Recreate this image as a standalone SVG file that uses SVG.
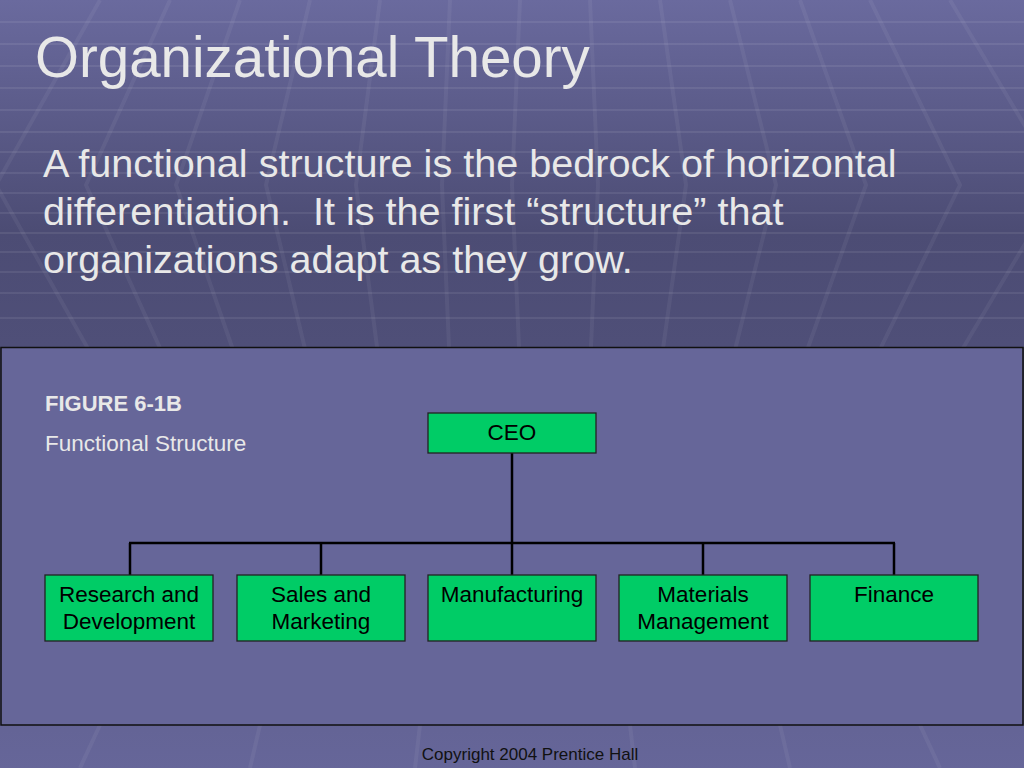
<svg xmlns="http://www.w3.org/2000/svg" width="1024" height="768" viewBox="0 0 1024 768">
<defs>
<linearGradient id="bg" x1="0" y1="0" x2="0" y2="1">
<stop offset="0" stop-color="#6a6a9e"/>
<stop offset="0.3" stop-color="#4c4c74"/>
<stop offset="0.45" stop-color="#4f4f78"/>
<stop offset="1" stop-color="#666699"/>
</linearGradient>
<style>
.hl{stroke:#ffffff;stroke-opacity:0.08;stroke-width:2}
.dl{stroke:#ffffff;stroke-opacity:0.055;stroke-width:4;fill:none}
.title{font-family:"Liberation Sans",Arial,sans-serif;fill:#e8e8e8}
.node rect{fill:#00cc66;stroke:#222222;stroke-width:1.3}
.node text{font-family:"Liberation Sans",Arial,sans-serif;font-size:22.5px;fill:#000000;text-anchor:middle}
.conn{stroke:#000000;stroke-width:2.5;fill:none}
</style>
</defs>
<rect x="0" y="0" width="1024" height="768" fill="url(#bg)"/>
<g id="background-grid">
<line class="hl" x1="0" y1="22" x2="1024" y2="22"/>
<line class="hl" x1="0" y1="44" x2="1024" y2="44"/>
<line class="hl" x1="0" y1="66" x2="1024" y2="66"/>
<line class="hl" x1="0" y1="88" x2="1024" y2="88"/>
<line class="hl" x1="0" y1="110" x2="1024" y2="110"/>
<line class="hl" x1="0" y1="132" x2="1024" y2="132"/>
<line class="hl" x1="0" y1="152" x2="1024" y2="152"/>
<line class="hl" x1="0" y1="173" x2="1024" y2="173"/>
<line class="hl" x1="0" y1="193" x2="1024" y2="193"/>
<line class="hl" x1="0" y1="213" x2="1024" y2="213"/>
<line class="hl" x1="0" y1="233" x2="1024" y2="233"/>
<line class="hl" x1="0" y1="252" x2="1024" y2="252"/>
<line class="hl" x1="0" y1="272" x2="1024" y2="272"/>
<line class="hl" x1="0" y1="293" x2="1024" y2="293"/>
<line class="hl" x1="0" y1="318" x2="1024" y2="318"/>
<polyline class="dl" points="520,0 512,185 520,370"/>
<polyline class="dl" points="590,0 598,185 590,370"/>
<polyline class="dl" points="660,0 686,185 660,370"/>
<polyline class="dl" points="730,0 776,185 730,370"/>
<polyline class="dl" points="800,0 866,185 800,370"/>
<polyline class="dl" points="870,0 960,185 870,370"/>
<polyline class="dl" points="950,0 1060,185 950,370"/>
<polyline class="dl" points="450,0 442,185 450,370"/>
<polyline class="dl" points="380,0 356,185 380,370"/>
<polyline class="dl" points="310,0 266,185 310,370"/>
<polyline class="dl" points="240,0 176,185 240,370"/>
<polyline class="dl" points="170,0 86,185 170,370"/>
<polyline class="dl" points="100,0 -4,185 100,370"/>
<line class="dl" x1="260" y1="725" x2="250" y2="768"/>
<line class="dl" x1="420" y1="725" x2="415" y2="768"/>
<line class="dl" x1="630" y1="725" x2="635" y2="768"/>
<line class="dl" x1="780" y1="725" x2="790" y2="768"/>
<line class="dl" x1="920" y1="725" x2="940" y2="768"/>
<line class="dl" x1="100" y1="725" x2="80" y2="768"/>
</g>
<text class="title" x="35" y="77" font-size="56.5">Organizational Theory</text>
<g class="title" font-size="39.6">
<text x="43" y="177">A functional structure is the bedrock of horizontal</text>
<text x="43" y="225" xml:space="preserve">differentiation.  It is the first “structure” that</text>
<text x="43" y="273">organizations adapt as they grow.</text>
</g>
<rect id="panel" x="1" y="347.5" width="1022" height="377.5" fill="#666699" stroke="#111111" stroke-width="1.5"/>
<text class="title" x="45" y="411" font-size="22" font-weight="bold">FIGURE 6-1B</text>
<text class="title" x="45" y="451" font-size="22.5">Functional Structure</text>
<g id="connectors">
<line class="conn" x1="512" y1="453" x2="512" y2="575"/>
<line class="conn" x1="129" y1="543" x2="895" y2="543"/>
<line class="conn" x1="130" y1="543" x2="130" y2="575"/>
<line class="conn" x1="321" y1="543" x2="321" y2="575"/>
<line class="conn" x1="703" y1="543" x2="703" y2="575"/>
<line class="conn" x1="894" y1="543" x2="894" y2="575"/>
</g>
<g id="ceo" class="node"><rect x="428" y="413" width="168" height="40"/><text x="512" y="440">CEO</text></g>
<g id="rnd" class="node"><rect x="45" y="575" width="168" height="66"/><text x="129" y="602">Research and</text><text x="129" y="629">Development</text></g>
<g id="sales" class="node"><rect x="237" y="575" width="168" height="66"/><text x="321" y="602">Sales and</text><text x="321" y="629">Marketing</text></g>
<g id="manufacturing" class="node"><rect x="428" y="575" width="168" height="66"/><text x="512" y="602">Manufacturing</text></g>
<g id="materials" class="node"><rect x="619" y="575" width="168" height="66"/><text x="703" y="602">Materials</text><text x="703" y="629">Management</text></g>
<g id="finance" class="node"><rect x="810" y="575" width="168" height="66"/><text x="894" y="602">Finance</text></g>
<text x="530" y="760" font-family="Liberation Sans, Arial, sans-serif" font-size="17" fill="#111111" text-anchor="middle">Copyright 2004 Prentice Hall</text>
</svg>
